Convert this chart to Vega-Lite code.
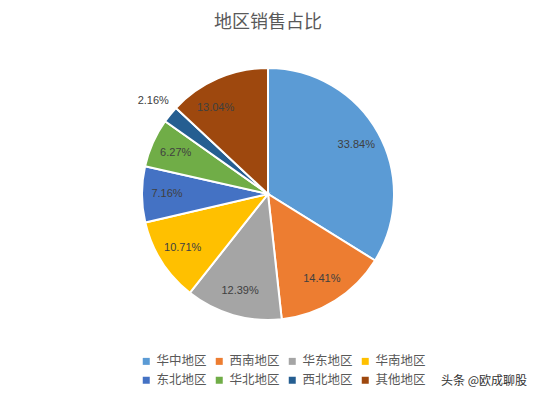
{
  "$schema": "https://vega.github.io/schema/vega-lite/v6.json",
  "width": 536,
  "height": 308,
  "autosize": {"type": "none"},
  "padding": {"top": 40, "left": 0, "right": 0, "bottom": 54},
  "background": "white",
  "title": {
    "text": "地区销售占比",
    "fontSize": 18,
    "font": "Noto Sans CJK SC",
    "fontWeight": "normal",
    "color": "#595959",
    "anchor": "middle",
    "offset": 8
  },
  "config": {"view": {"stroke": null}},
  "datasets": {
    "sales": [
      {"地区": "华中地区", "占比": 0.3384, "序号": 1},
      {"地区": "西南地区", "占比": 0.1441, "序号": 2},
      {"地区": "华东地区", "占比": 0.1239, "序号": 3},
      {"地区": "华南地区", "占比": 0.1071, "序号": 4},
      {"地区": "东北地区", "占比": 0.0716, "序号": 5},
      {"地区": "华北地区", "占比": 0.0627, "序号": 6},
      {"地区": "西北地区", "占比": 0.0216, "序号": 7},
      {"地区": "其他地区", "占比": 0.1304, "序号": 8}
    ],
    "mark": [{"文字": "头条 @欧成聊股"}]
  },
  "layer": [
    {
      "data": {"name": "sales"},
      "mark": {"type": "arc", "outerRadius": 126, "stroke": "white", "strokeWidth": 2},
      "encoding": {
        "theta": {"field": "占比", "type": "quantitative", "stack": true},
        "order": {"field": "序号", "type": "quantitative"},
        "color": {
          "field": "地区",
          "type": "nominal",
          "scale": {
            "domain": ["华中地区", "西南地区", "华东地区", "华南地区", "东北地区", "华北地区", "西北地区", "其他地区"],
            "range": ["#5B9BD5", "#ED7D31", "#A5A5A5", "#FFC000", "#4472C4", "#70AD47", "#255E91", "#9E480E"]
          },
          "legend": {
            "title": null,
            "orient": "none",
            "legendX": 140,
            "legendY": 315,
            "direction": "horizontal",
            "columns": 4,
            "symbolType": "square",
            "symbolSize": 49,
            "symbolStrokeWidth": 0,
            "labelFont": "Noto Sans CJK SC",
            "labelFontSize": 12.5,
            "labelColor": "#595959",
            "labelOffset": 4,
            "columnPadding": 6,
            "rowPadding": 6
          }
        }
      }
    },
    {
      "data": {"name": "sales"},
      "transform": [{"filter": "datum['地区'] !== '西北地区'"}],
      "mark": {"type": "text", "radius": 101, "font": "Liberation Sans", "fontSize": 11, "color": "#404040"},
      "encoding": {
        "theta": {"field": "占比", "type": "quantitative", "stack": true},
        "order": {"field": "序号", "type": "quantitative"},
        "text": {"field": "占比", "type": "quantitative", "format": ".2%"}
      }
    },
    {
      "data": {"name": "sales"},
      "mark": {"type": "text", "radius": 148, "font": "Liberation Sans", "fontSize": 11, "color": "#404040"},
      "encoding": {
        "theta": {"field": "占比", "type": "quantitative", "stack": true},
        "order": {"field": "序号", "type": "quantitative"},
        "text": {"condition": {"test": "datum['地区'] === '西北地区'", "field": "占比", "type": "quantitative", "format": ".2%"}, "value": ""}
      }
    },
    {
      "data": {"name": "mark"},
      "mark": {"type": "text", "x": {"expr": "width - 52"}, "y": {"expr": "height + 33"}, "font": "Noto Sans CJK SC", "fontSize": 12, "color": "#333333"},
      "encoding": {"text": {"field": "文字", "type": "nominal"}}
    }
  ]
}
